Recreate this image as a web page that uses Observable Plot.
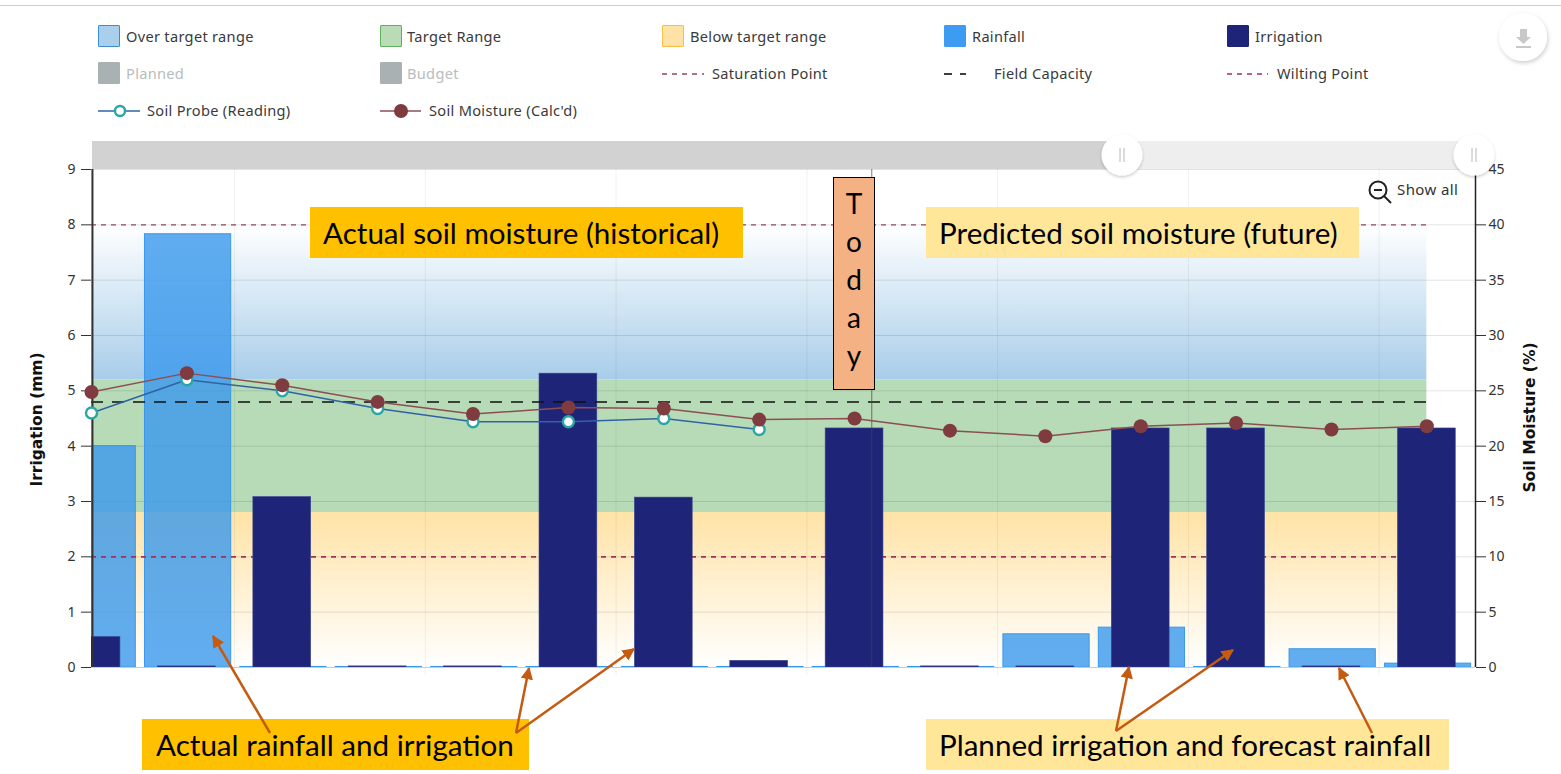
<!DOCTYPE html>
<html><head><meta charset="utf-8">
<script src="https://cdn.jsdelivr.net/npm/d3@7"></script>
<script src="https://cdn.jsdelivr.net/npm/@observablehq/plot@0.6"></script>
<style>
html,body{margin:0;padding:0;background:#fff;overflow:hidden}
#page{position:relative;width:1561px;height:774px;overflow:hidden;font-family:"Noto Sans",sans-serif}
#legend{position:relative;height:141px;width:1561px}
#legend .t{position:absolute;font-size:14.6px;line-height:20px;color:#3a3a3a;white-space:nowrap;letter-spacing:.3px}
#legend .t.off{color:#b6bdbe}
#legend .sw{position:absolute;box-sizing:border-box;width:22px;height:22px;border-radius:1px}
#legend svg,#overlay,#overlay2{position:absolute;left:0;top:0}
.box{position:absolute;color:#000;font-family:Lato,sans-serif;font-size:29.6px;white-space:pre;box-sizing:border-box}
#chart svg{display:block}
</style></head><body>
<div id="page"><div id="legend"></div><div id="chart"></div></div>
<script>
const days = d3.range(15);
const rainfall = [4.0,7.83,0.01,0.01,0.01,0.01,0.01,0.01,0.01,0.01,0.6,0.72,0.01,0.33,0.07];
const irrigation = [0.55,0.02,3.08,0.02,0.02,5.31,3.07,0.12,4.32,0.02,0.02,4.32,4.32,0.02,4.32];
const soilMoisture = [24.9,26.6,25.5,24.0,22.9,23.5,23.4,22.4,22.5,21.4,20.9,21.8,22.1,21.5,21.8];
const soilProbe = [23.0,26.0,25.0,23.4,22.2,22.2,22.5,21.5];
const mmTicks = [0,1,2,3,4,5,6,7,8,9];
const verticalGrid = [1.5,3.5,5.5,7.5,9.5,11.5,13.5];
const todayAt = [8.18];
const saturation = 8, fieldCapacity = 4.8, wilting = 2, targetLow = 2.8, targetHigh = 5.2;
const lastDay = 14;
const C = {rain:"#3a98ec",irr:"#1e2578",calc:"#7f3b3f",calcLine:"#8b4f52",probe:"#2aa7a4",probeLine:"#2f63a6",
  sat:"#8c4a5c",wilt:"#a3305f"};

/* legend */
const lg = document.getElementById("legend");
const add = (cls,css,txt)=>{const d=document.createElement("div");d.className=cls;d.style.cssText=css;if(txt)d.textContent=txt;lg.appendChild(d);};
const swatches = [
 ["Over target range",98,26,"#aacfec","#3b8fd0",126,0],["Target Range",380,26,"#b9dcb7","#5db35d",407,0],
 ["Below target range",662,26,"#ffe3a6","#fbbd45",690,0],["Rainfall",944,26,"#3d9bf2","#3d9bf2",972,0],
 ["Irrigation",1227,26,C.irr,C.irr,1255,0],["Planned",98,63,"#a9b1b3","#a9b1b3",126,1],["Budget",380,63,"#a9b1b3","#a9b1b3",407,1]];
for(const [t,x,y,f,s,tx,off] of swatches){
  add("sw",`left:${x}px;top:${y-1}px;background:${f};border:1px solid ${s}`);
  add("t"+(off?" off":""),`left:${tx}px;top:${y}px`,t);
}
for(const [t,x] of [["Saturation Point",712],["Field Capacity",994],["Wilting Point",1277]]) add("t",`left:${x}px;top:63px`,t);
for(const [t,x] of [["Soil Probe (Reading)",147],["Soil Moisture (Calc'd)",429]]) add("t",`left:${x}px;top:100px`,t);
const lsvg = d3.select(lg).append("svg").attr("width",1561).attr("height",141);
lsvg.append("line").attr("x1",0).attr("x2",1561).attr("y1",5.5).attr("y2",5.5).attr("stroke","#a9d9f2").attr("stroke-width",1);
const hl=(x1,x2,y,c,dash,w=1.3)=>lsvg.append("line").attr("x1",x1).attr("x2",x2).attr("y1",y).attr("y2",y).attr("stroke",c).attr("stroke-width",w).attr("stroke-dasharray",dash);
hl(662,704,74,C.sat,"5,5"); hl(944,966,74,"#000","8,8",1.5); hl(1227,1268,74,C.wilt,"5,5",1.5);
hl(98,140,111,C.probeLine,null,1.5); hl(380,421,111,C.calcLine,null,1.5);
lsvg.append("circle").attr("cx",120).attr("cy",111).attr("r",5).attr("fill","#fff").attr("stroke",C.probe).attr("stroke-width",2.4);
lsvg.append("circle").attr("cx",401).attr("cy",111).attr("r",7).attr("fill",C.calc);
/* export button */
lsvg.append("defs").html('<filter id="sh" x="-30%" y="-30%" width="160%" height="160%"><feDropShadow dx="1" dy="2" stdDeviation="2" flood-color="#000" flood-opacity=".2"/></filter>');
lsvg.append("circle").attr("cx",1523).attr("cy",37).attr("r",24).attr("fill","#fff").attr("filter","url(#sh)");
lsvg.append("path").attr("d","M1520 29h7v8h4l-7.5 7-7.5-7h4zM1516 46h15v2h-15z").attr("fill","#c8c8c8");

/* chart */
const defs = () => {
  const d = d3.create("svg:defs");
  const g1 = d.append("linearGradient").attr("id","overG").attr("x1",0).attr("x2",0).attr("y1",0).attr("y2",1);
  g1.append("stop").attr("offset","0").attr("stop-color","#ffffff");
  g1.append("stop").attr("offset","1").attr("stop-color","#a8cde9");
  const g2 = d.append("linearGradient").attr("id","belowG").attr("x1",0).attr("x2",0).attr("y1",0).attr("y2",1);
  g2.append("stop").attr("offset","0").attr("stop-color","#ffe3a6");
  g2.append("stop").attr("offset","1").attr("stop-color","#ffffff");
  return d.node();
};
const rows = days.map(i=>({i,rain:rainfall[i],irr:irrigation[i],calc:soilMoisture[i],probe:soilProbe[i]}));
const probeRows = rows.filter(d=>d.probe!=null);
const chart = Plot.plot({
  width:1561, height:633,
  marginLeft:91, marginRight:86, marginTop:28, marginBottom:107,
  style:{fontFamily:'"Noto Sans",sans-serif',fontSize:"14px",background:"transparent",overflow:"visible"},
  x:{domain:[0,14.51],axis:null},
  y:{domain:[0,9],axis:null},
  marks:[
    defs,
    Plot.rect([[targetHigh,saturation]],{x1:0,x2:lastDay,y1:d=>d[0],y2:d=>d[1],fill:"url(#overG)"}),
    Plot.rect([[targetLow,targetHigh]],{x1:0,x2:lastDay,y1:d=>d[0],y2:d=>d[1],fill:"#b7dbb7"}),
    Plot.rect([[0,targetLow]],{x1:0,x2:lastDay,y1:d=>d[0],y2:d=>d[1],fill:"url(#belowG)"}),
    Plot.gridY(mmTicks.slice(1),{stroke:"#000",strokeOpacity:.11}),
    Plot.ruleX(verticalGrid,{stroke:"#000",strokeOpacity:.06,insetBottom:-8}),
    Plot.ruleY([saturation],{x1:0,x2:lastDay,stroke:C.sat,strokeWidth:1.3,strokeDasharray:"5,5"}),
    Plot.rect(rows,{x1:d=>d.i-.452,x2:d=>d.i+.452,y1:0,y2:"rain",dx:1.2,fill:C.rain,fillOpacity:.8,stroke:"#3a98ec",strokeWidth:1,clip:true}),
    Plot.ruleY([wilting],{x1:0,x2:lastDay,stroke:C.wilt,strokeWidth:1.8,strokeDasharray:"5,5"}),
    Plot.rect(rows,{x1:d=>d.i-.303,x2:d=>d.i+.303,y1:0,y2:"irr",fill:C.irr,stroke:"#3b4490",strokeWidth:.6,clip:true}),
    Plot.ruleY([fieldCapacity],{x1:0,x2:lastDay,stroke:"#111",strokeWidth:1.5,strokeDasharray:"12,9"}),
    Plot.ruleY([0],{stroke:"#aaa",strokeOpacity:.6}),
    Plot.ruleX(todayAt,{stroke:"#444",strokeOpacity:.6,strokeWidth:1.2}),
    Plot.ruleX([0.01],{stroke:"#333",strokeWidth:2}),
    Plot.ruleX([14.51],{stroke:"#222",strokeWidth:1.5}),
    Plot.axisY({anchor:"left",ticks:mmTicks,tickSize:10,tickPadding:6,label:null,color:"#333",fontSize:14,stroke:"#333"}),
    Plot.axisY({anchor:"right",ticks:mmTicks,tickSize:10,tickPadding:3,label:null,color:"#333",fontSize:14,tickFormat:d=>d*5}),
    Plot.line(probeRows,{x:"i",y:d=>d.probe/5,stroke:C.probeLine,strokeWidth:1.5}),
    Plot.line(rows,{x:"i",y:d=>d.calc/5,stroke:C.calcLine,strokeWidth:1.5}),
    Plot.dot(probeRows,{x:"i",y:d=>d.probe/5,r:5.5,fill:"#fff",stroke:C.probe,strokeWidth:2.4}),
    Plot.dot(rows,{x:"i",y:d=>d.calc/5,r:7,fill:C.calc}),
    Plot.text(["Irrigation (mm)"],{frameAnchor:"left",textAnchor:"middle",rotate:-90,dx:-54,dy:1,fontWeight:"bold",fontFamily:"DejaVu Sans",fontSize:15.5,fill:"#111"}),
    Plot.text(["Soil Moisture (%)"],{frameAnchor:"right",textAnchor:"middle",rotate:-90,dx:55,dy:-1,fontWeight:"bold",fontFamily:"DejaVu Sans",fontSize:15.5,fill:"#111"})
  ]
});
document.getElementById("chart").appendChild(chart);

/* overlay: navigator, call-outs, arrows */
const page = document.getElementById("page");
const ov = d3.select(page).append("svg").attr("id","overlay").attr("width",1561).attr("height",774);
ov.append("defs").html('<filter id="sh2" x="-30%" y="-30%" width="160%" height="160%"><feDropShadow dx="0" dy="1.5" stdDeviation="1.6" flood-color="#000" flood-opacity=".22"/></filter><marker id="ah" viewBox="0 0 10 10" refX="9" refY="5" markerWidth="5" markerHeight="5" markerUnits="strokeWidth" orient="auto"><path d="M0 0L10 5L0 10z" fill="#c55a11"/></marker>');
ov.append("rect").attr("x",92).attr("y",141).attr("width",1030).attr("height",28).attr("fill","#d2d2d2");
ov.append("rect").attr("x",1122).attr("y",141).attr("width",352).attr("height",28).attr("fill","#eeeeee");
for(const cx of [1122,1474]){
  ov.append("circle").attr("cx",cx).attr("cy",155).attr("r",20.5).attr("fill","#fff").attr("filter","url(#sh2)");
  for(const dx of [-2,2]) ov.append("line").attr("x1",cx+dx).attr("x2",cx+dx).attr("y1",148).attr("y2",162).attr("stroke","#b8b8b8").attr("stroke-width",1);
}
ov.append("circle").attr("cx",1378).attr("cy",190).attr("r",8.5).attr("fill","none").attr("stroke","#222").attr("stroke-width",2);
ov.append("line").attr("x1",1384).attr("y1",196).attr("x2",1391).attr("y2",203).attr("stroke","#222").attr("stroke-width",2);
ov.append("line").attr("x1",1374).attr("y1",190).attr("x2",1382).attr("y2",190).attr("stroke","#222").attr("stroke-width",2);
ov.append("text").attr("x",1397).attr("y",195).attr("font-size",15).attr("letter-spacing",".4").attr("fill","#333").attr("font-family",'"Noto Sans"').text("Show all");

const boxes = [
 ["Actual soil moisture (historical)",310,207,433,51,"#FFC000",13],
 ["Predicted soil moisture (future)",926,207,433,51,"#FFE699",13],
 ["Actual rainfall and irrigation",142,719,387,51,"#FFC000",14],
 ["Planned irrigation and forecast rainfall",926,719,523,51,"#FFE699",13]];
for(const [t,x,y,w,h,f,p] of boxes){
  const d=document.createElement("div");d.className="box";d.textContent=t;
  d.style.cssText=`left:${x}px;top:${y}px;width:${w}px;height:${h}px;background:${f};padding-left:${p}px;line-height:${h}px`;
  page.appendChild(d);
}
const td=document.createElement("div");td.className="box";
td.style.cssText="left:833px;top:177px;width:42px;height:213px;background:#F4B183;border:1px solid #000;text-align:center;white-space:pre-line;line-height:38px;padding-top:6px;font-size:28px;";
td.textContent="T\no\nd\na\ny";
page.appendChild(td);
const arrows=[[270,733,213,636],[516,733,529,668],[516,733,634,649],[1116,731,1129,667],[1116,731,1233,650],[1372,733,1339,668]];
const ov2 = d3.select(page).append("svg").attr("id","overlay2").attr("width",1561).attr("height",774);
for(const [a,b,c,e] of arrows) ov2.append("line").attr("x1",a).attr("y1",b).attr("x2",c).attr("y2",e).attr("stroke","#c55a11").attr("stroke-width",2.5).attr("marker-end","url(#ah)");
</script>
</body></html>
